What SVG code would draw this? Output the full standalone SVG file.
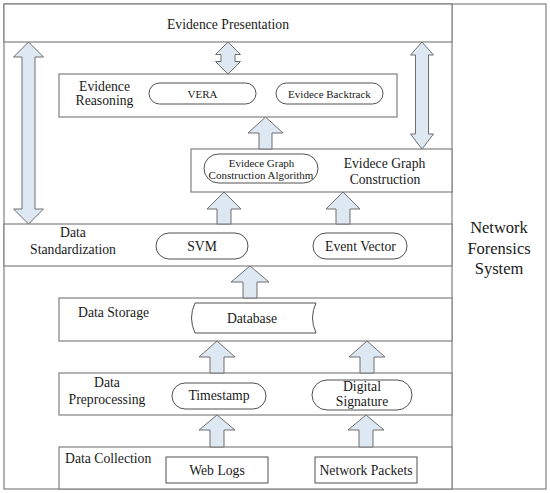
<svg xmlns="http://www.w3.org/2000/svg" width="550" height="493" viewBox="0 0 550 493">
<style>
.box{fill:#fff;stroke:#808080;stroke-width:1.2}
.pill{fill:#fff;stroke:#505050;stroke-width:1}
.arr{fill:#dde8f3;stroke:#6e6e6e;stroke-width:1}
text{font-family:"Liberation Serif","Times New Roman",serif;fill:#1a1a1a;font-size:13.7px}
.c{text-anchor:middle}
.s{font-size:11px}
.big{font-size:16.5px}
</style>
<rect x="0" y="0" width="550" height="493" fill="#fff"/>
<g id="system">
<rect class="box" x="4" y="4" width="542" height="485"/>
<line x1="452" y1="4" x2="452" y2="489" stroke="#808080" stroke-width="1.2"/>
<text class="c big" x="499" y="233">Network</text>
<text class="c big" x="499" y="254">Forensics</text>
<text class="c big" x="499" y="274">System</text>
</g>
<g id="presentation">
<rect class="box" x="4" y="4" width="448" height="38"/>
<text class="c" x="228" y="28.5">Evidence Presentation</text>
</g>
<g id="reasoning">
<rect class="box" x="59" y="74" width="338" height="43"/>
<text class="c" x="104.5" y="90.5">Evidence</text>
<text class="c" x="104.5" y="104.5">Reasoning</text>
<rect class="pill" x="149" y="83" width="107" height="21" rx="10.5"/>
<text class="c s" x="202.5" y="97.5">VERA</text>
<rect class="pill" x="276" y="83" width="107" height="21" rx="10.5"/>
<text class="c s" x="329.5" y="97.5">Evidece Backtrack</text>
</g>
<g id="graph-construction">
<rect class="box" x="191" y="149" width="261" height="43"/>
<rect class="pill" x="204" y="154" width="114" height="29" rx="14.5"/>
<text class="c s" x="261.5" y="166.5">Evidece Graph</text>
<text class="c s" x="261" y="179">Construction Algorithm</text>
<text class="c" x="384.5" y="168">Evidece Graph</text>
<text class="c" x="385" y="183.5">Construction</text>
</g>
<g id="standardization">
<rect class="box" x="4" y="224" width="448" height="42"/>
<text class="c" x="73" y="237">Data</text>
<text class="c" x="73" y="254">Standardization</text>
<rect class="pill" x="156" y="233" width="92" height="26" rx="13"/>
<text class="c" x="202" y="250.5">SVM</text>
<rect class="pill" x="313" y="233" width="94" height="26" rx="13"/>
<text class="c" x="360.5" y="250.5">Event Vector</text>
</g>
<g id="storage">
<rect class="box" x="59" y="298" width="393" height="43"/>
<text x="78" y="317">Data Storage</text>
<path class="pill" d="M195,303 H316 Q309,318 316,333 H195 Q188,318 195,303 Z"/>
<text class="c" x="252" y="323">Database</text>
</g>
<g id="preprocessing">
<rect class="box" x="59" y="373" width="393" height="42"/>
<text class="c" x="107" y="387">Data</text>
<text class="c" x="107" y="404">Preprocessing</text>
<rect class="pill" x="172" y="383" width="94" height="26" rx="13"/>
<text class="c" x="219" y="399.5">Timestamp</text>
<rect class="pill" x="312" y="380" width="100" height="30" rx="15"/>
<text class="c" x="362" y="390.5">Digital</text>
<text class="c" x="362" y="405.5">Signature</text>
</g>
<g id="collection">
<rect class="box" x="59" y="447" width="393" height="42"/>
<text x="65" y="463">Data Collection</text>
<rect class="pill" x="166" y="457" width="102" height="26" rx="0"/>
<text class="c" x="217" y="474.5">Web Logs</text>
<rect class="pill" x="315" y="457" width="102" height="26" rx="0"/>
<text class="c" x="366" y="474.5">Network Packets</text>
</g>
<g id="connectors">
<polygon class="arr" points="28.5,42 43.5,57 35,57 35,209 43.5,209 28.5,224 13.5,209 22,209 22,57 13.5,57"/>
<polygon class="arr" points="228,42 240.5,54.5 235,54.5 235,61.5 240.5,61.5 228,74 215.5,61.5 221,61.5 221,54.5 215.5,54.5"/>
<polygon class="arr" points="422,42 433.5,55 428.5,55 428.5,134 433.5,134 422,149 410.5,134 415.5,134 415.5,55 410.5,55"/>
<polygon class="arr" points="265.5,117 283,133 272,133 272,149 259,149 259,133 248,133"/>
<polygon class="arr" points="224,192 241,209 231,209 231,224 217,224 217,209 207,209"/>
<polygon class="arr" points="343,192 360,209 350,209 350,224 336,224 336,209 326,209"/>
<polygon class="arr" points="250,266 269,282 257,282 257,298 243,298 243,282 231,282"/>
<polygon class="arr" points="217,341 235,357 224,357 224,373 210,373 210,357 199,357"/>
<polygon class="arr" points="367,341 385,357 374,357 374,373 360,373 360,357 349,357"/>
<polygon class="arr" points="217,415 235,430 224,430 224,447 210,447 210,430 199,430"/>
<polygon class="arr" points="366,415 384,430 373,430 373,447 359,447 359,430 348,430"/>
</g>
</svg>
